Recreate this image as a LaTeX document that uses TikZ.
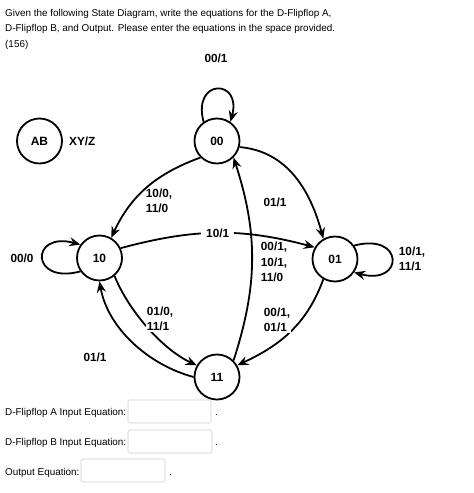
\documentclass[tikz,border=0pt]{standalone}
\usepackage{fontspec}
\setmainfont{Liberation Sans}
\usetikzlibrary{arrows.meta}
\begin{document}
\begin{tikzpicture}[x=1pt,y=-1pt,
  st/.style={circle,draw,line width=1.8pt,minimum size=45pt,inner sep=0pt,font=\fontsize{12}{14}\selectfont\bfseries},
  edge/.style={line width=1.8pt,-{Stealth[length=11pt,width=9pt]}},
  lbl/.style={font=\fontsize{11.8}{15.5}\selectfont\bfseries,align=left,inner sep=1pt},
  hdr/.style={font=\fontsize{9.9}{12}\selectfont,anchor=base west,inner sep=0pt},
  ansbox/.style={draw=black!20,rounded corners=1.5pt,line width=0.6pt}
]
\useasboundingbox (0,0) rectangle (474,493);
% header
\node[hdr] (h1) at (5,16) {Given the following State Diagram, write the equations for the D-Flipflop A,};
\node[hdr] (h2) at (5,31) {D-Flipflop B, and Output. Please enter the equations in the space provided.};
\node[hdr] (h3) at (5,47) {(156)};
% legend
\node[st] (ab) at (39.5,141) {AB};
\node[lbl,anchor=west] (xyz) at (68,141) {XY/Z};
% states
\node[st] (s00) at (217,141) {00};
\node[st] (s10) at (99.5,258) {10};
\node[st] (s01) at (335,259) {01};
\node[st] (s11) at (217,377) {11};
% self loops
\draw[edge] (s00.125) .. controls +(105:45pt) and +(75:45pt) .. (s00.55);
\node[lbl] (l00) at (216,58) {00/1};
\draw[edge] (s10.215) .. controls +(195:52pt) and +(165:52pt) .. (s10.145);
\node[lbl] (l10) at (22,258) {00/0};
\draw[edge] (s01.35) .. controls +(15:52pt) and +(-15:52pt) .. (s01.-35);
\node[lbl] (l01) at (412,259) {10/1,\\11/1};
% transitions
\draw[edge] (s00.225) to[out=200,in=65] (s10.60);
\node[lbl] (a) at (159,201) {10/0,\\11/0};
\draw[edge] (s10.25) to[out=15,in=165] node[lbl,fill=white,pos=0.5,inner xsep=5pt] (b) {10/1} (s01.150);
\draw[edge] (s00.-15) to[out=-5,in=105] (s01.120);
\node[lbl] (c) at (275,202) {01/1};
\draw[edge] (s11.45) to[out=72,in=-72] (s00.-45);
\node[lbl] (d) at (274,262) {00/1,\\10/1,\\11/0};
\draw[edge] (s01.-120) to[out=-110,in=25] (s11.30);
\node[lbl,fill=white] (e) at (277,320) {00/1,\\01/1};
\draw[edge] (s10.-50) to[out=-68,in=155,looseness=0.8] (s11.150);
\node[lbl,fill=white] (f) at (160,319) {01/0,\\11/1};
\draw[edge] (s11.180) to[out=165,in=-80,looseness=0.9] (s10.-90);
\node[lbl] (g) at (95,357) {01/1};
% answer fields
\node[hdr] (q1) at (5,415) {D-Flipflop A Input Equation:};
\draw[ansbox] (128,400) rectangle (211,423);
\node[hdr] (p1) at (215,415) {.};
\node[hdr] (q2) at (5,445) {D-Flipflop B Input Equation:};
\draw[ansbox] (128,430) rectangle (212,453);
\node[hdr] (p2) at (215,445) {.};
\node[hdr] (q3) at (5,475) {Output Equation:};
\draw[ansbox] (81,459) rectangle (165,482);
\node[hdr] (p3) at (169,475) {.};
\end{tikzpicture}
\end{document}
